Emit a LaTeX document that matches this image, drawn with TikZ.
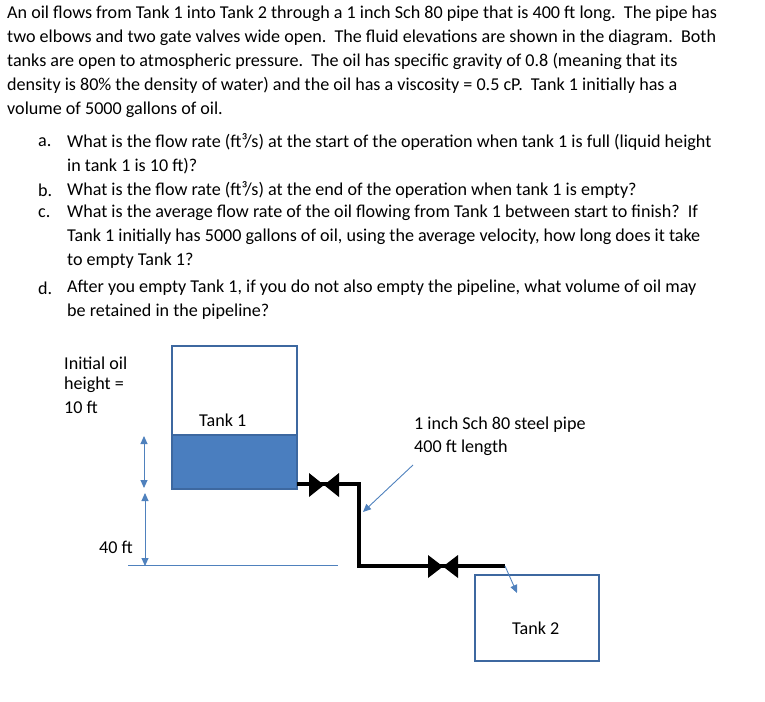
\documentclass[tikz,border=0pt]{standalone}
\usepackage{fontspec}
\setmainfont{Carlito}
\usetikzlibrary{arrows.meta}
\begin{document}
\begin{tikzpicture}[x=1pt,y=-1pt,
  txt/.style={anchor=west,inner sep=0pt,font=\fontsize{18.1}{23.9}\selectfont,align=left},
  tank/.style={draw=tankblue,line width=2.6pt},
  dim/.style={draw=lineblue,line width=0.9pt,-{Triangle[width=7pt,length=8pt]}},
  pipe/.style={line width=3.5pt,black},
  valve/.style={fill=black}]
\definecolor{tankblue}{HTML}{3D68A0}
\definecolor{oil}{HTML}{4A7EBF}
\definecolor{lineblue}{HTML}{4F81BD}
\useasboundingbox (0,0) rectangle (765,701);
% text
\node[txt,anchor=north west] (p) at (7,6) {An oil flows from Tank 1 into Tank 2 through a 1 inch Sch 80 pipe that is 400 ft long.\ \ The pipe has\\two elbows and two gate valves wide open.\ \ The fluid elevations are shown in the diagram.\ \ Both\\tanks are open to atmospheric pressure.\ \ The oil has specific gravity of 0.8 (meaning that its\\density is 80\% the density of water) and the oil has a viscosity = 0.5 cP.\ \ Tank 1 initially has a\\volume of 5000 gallons of oil.};
\node[txt] (la) at (38,142) {a.};
\node[txt] (ta) at (67,154) {What is the flow rate (ft³/s) at the start of the operation when tank 1 is full (liquid height\\in tank 1 is 10 ft)?};
\node[txt] (lb) at (38,190) {b.};
\node[txt] (tb) at (67,190) {What is the flow rate (ft³/s) at the end of the operation when tank 1 is empty?};
\node[txt] (lc) at (38,213) {c.};
\node[txt] (tc) at (67,237) {What is the average flow rate of the oil flowing from Tank 1 between start to finish?\ \ If\\Tank 1 initially has 5000 gallons of oil, using the average velocity, how long does it take\\to empty Tank 1?};
\node[txt] (ld) at (38,288) {d.};
\node[txt] (td) at (67,300) {After you empty Tank 1, if you do not also empty the pipeline, what volume of oil may\\be retained in the pipeline?};
% tank 1
\fill[oil] (172,435) rectangle (297,489);
\draw[tank] (172,346) rectangle (297,489);
\draw[tank] (172,435) -- (297,435);
\node[txt] (t1) at (199,420) {Tank 1};
% tank 2
\draw[tank] (475,575) rectangle (599,661);
\node[txt] (t2) at (512,628) {Tank 2};
% pipe
\coordinate (a) at (297,484);
\coordinate (b) at (359,484);
\coordinate (c) at (359,566);
\coordinate (d) at (505,566);
\draw[pipe,line join=miter] (a) -- (b) -- (c) -- (d);
\fill[valve] (309,473) -- (309,497) -- (339,473) -- (339,497) -- cycle;
\fill[valve] (428,555) -- (428,578) -- (458,555) -- (458,578) -- cycle;
% labels
\node[txt] (lab1) at (64,363) {Initial oil};
\node[txt] (lab2) at (64,385) {height =};
\node[txt] (lab3) at (64,407) {10 ft};
\node[txt] (forty) at (99,547) {40 ft};
\node[txt] (pl1) at (414,425) {1 inch Sch 80 steel pipe};
\node[txt] (pl2) at (414,448) {400 ft length};
% dims
\coordinate (u1) at (144,461);
\draw[dim] (u1) -- (144,436);
\draw[dim] (u1) -- (144,488);
\coordinate (u2) at (145,530);
\draw[dim] (u2) -- (145,493);
\draw[dim] (u2) -- (145,566);
\draw[lineblue,line width=0.9pt] (128,565) -- (338,565);
\coordinate (pa) at (413,465);
\draw[dim] (pa) -- (363,512);
\draw[dim] (d) -- (517,593);
\end{tikzpicture}
\end{document}
